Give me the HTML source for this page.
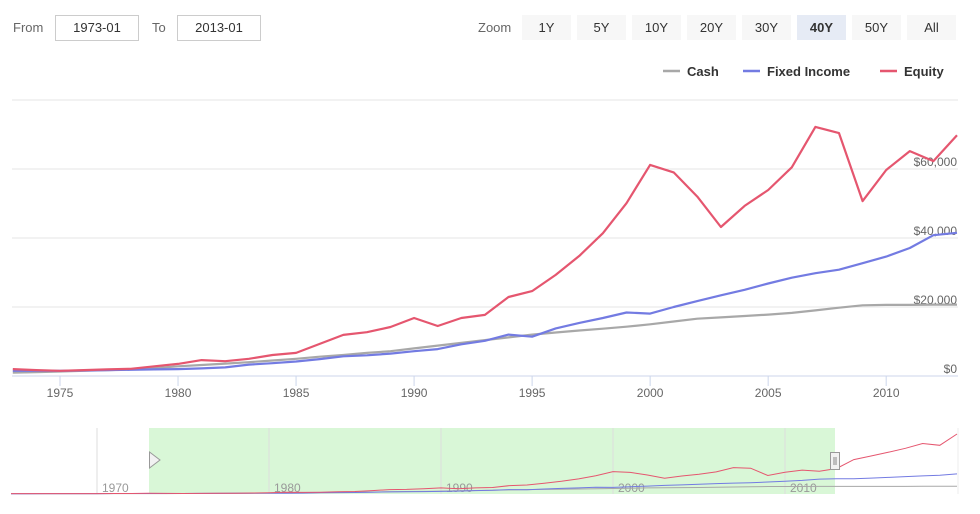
<!DOCTYPE html>
<html><head><meta charset="utf-8"><style>
body{margin:0;background:#fff;font-family:"Liberation Sans",sans-serif;}
svg text{font-family:"Liberation Sans",sans-serif;}
</style></head><body>
<svg id="c" width="980" height="509" viewBox="0 0 980 509">
<text x="13" y="32" font-size="13" fill="#666">From</text>
<rect x="55.5" y="15.5" width="83" height="25" fill="#fff" stroke="#ccc"/>
<text x="97" y="32" font-size="13" fill="#333" text-anchor="middle">1973-01</text>
<text x="152" y="32" font-size="13" fill="#666">To</text>
<rect x="177.5" y="15.5" width="83" height="25" fill="#fff" stroke="#ccc"/>
<text x="219" y="32" font-size="13" fill="#333" text-anchor="middle">2013-01</text>
<text x="478" y="32" font-size="13" fill="#666">Zoom</text>
<g id="btns"></g>
<g id="legend"></g>
<g id="grid"></g>
<g id="main"></g>
<g id="nav"></g>
</svg>
<script>
const years=[1973,1974,1975,1976,1977,1978,1979,1980,1981,1982,1983,1984,1985,1986,1987,1988,1989,1990,1991,1992,1993,1994,1995,1996,1997,1998,1999,2000,2001,2002,2003,2004,2005,2006,2007,2008,2009,2010,2011,2012,2013];
const equity=[2000,1700,1500,1700,1900,2100,2800,3500,4600,4300,5000,6100,6700,9300,11900,12700,14200,16800,14500,16800,17700,22900,24600,29300,34800,41400,50100,61200,59000,52000,43200,49300,53900,60500,72200,70400,50700,59700,65200,62300,69800];
const fixedIncome=[1500,1500,1500,1600,1700,1800,1900,2000,2200,2500,3300,3700,4200,4900,5700,6000,6500,7200,7800,9200,10200,12000,11400,13800,15400,16800,18400,18100,20000,21700,23400,25000,26800,28500,29800,30800,32700,34600,37100,40800,41500];
const cash=[1000,1100,1300,1500,1700,1900,2300,2800,3200,3600,4000,4500,5000,5600,6100,6700,7200,8000,8800,9600,10400,11200,12000,12600,13200,13700,14300,15000,15800,16600,17000,17400,17800,18300,19000,19800,20500,20600,20600,20700,20700];
const preYears=[1965,1966,1967,1968,1969,1970,1971,1972];
const preEquity=[1000,1000,1000,1100,1100,1200,1300,1500];
const preFixed=[900,900,1000,1000,1100,1200,1300,1400];
const preCash=[800,800,800,900,900,900,1000,1000];
const postYears=[2014,2015,2016,2017,2018,2019,2020];
const postEquity=[94000,104000,114000,125000,138000,133000,164000];
const postFixed=[41500,43500,45500,47500,49500,51500,55000];
const postCash=[20800,20800,20900,20900,21000,21000,21000];
const yTicks=[0,20000,40000,60000,80000];
const yTickLabels=["$0","$20,000","$40,000","$60,000",""];
const xTicks=[1975,1980,1985,1990,1995,2000,2005,2010];
const navTicks=[1970,1980,1990,2000,2010];
const zoomButtons=["1Y","5Y","10Y","20Y","30Y","40Y","50Y","All"];
const NS="http://www.w3.org/2000/svg";
function mk(tag,attrs,parent){const e=document.createElementNS(NS,tag);for(const k in attrs)e.setAttribute(k,attrs[k]);parent.appendChild(e);return e;}
const xS=y=>12.8+(y-1973)*(957-12.8)/40;
const yS=v=>376-v*69/20000;
const nxS=y=>97+(y-1970)*17.2;
const nyS=v=>494-v*(60/164000);
const COL={equity:"#e5566f",fixed:"#737be2",cash:"#a8a8a8"};
// buttons
const bg=document.getElementById('btns');
zoomButtons.forEach((b,i)=>{const x=522+i*55;
 const r=mk('rect',{x:x,y:15,width:49,height:25,fill:b==="40Y"?"#e6ebf5":"#f7f7f7"},bg);
 
 
 const t=mk('text',{x:x+24.5,y:32,'font-size':13,'text-anchor':'middle',fill:"#333",'font-weight':b==="40Y"?"bold":"normal"},bg);t.textContent=b;
 
 
});
// legend
const lg=document.getElementById('legend');
[["Cash",COL.cash,663],["Fixed Income",COL.fixed,743],["Equity",COL.equity,880]].forEach(([n,c,x])=>{
 const g=mk('g',{},lg);
 
 
 mk('line',{x1:x,x2:x+17,y1:71,y2:71,stroke:c,'stroke-width':2.5},g);
 const t=mk('text',{x:x+24,y:76,'font-size':13,'font-weight':'bold',fill:"#333"},g);t.textContent=n;
});
// grid
const gg=document.getElementById('grid');
yTicks.forEach((v,i)=>{const y=yS(v);
 const l=mk('line',{x1:12,x2:958,y1:y,y2:y,stroke:i===0?"#ccd6eb":"#e6e6e6",'stroke-width':1},gg);
 
 
 if(yTickLabels[i]){const t=mk('text',{x:957,y:y-3,'font-size':12,'text-anchor':'end',fill:"#666"},gg);t.textContent=yTickLabels[i];
 
 }
});
xTicks.forEach(yr=>{const x=xS(yr);
 mk('line',{x1:x,x2:x,y1:376,y2:386,stroke:"#ccd6eb"},gg);
 const t=mk('text',{x:x,y:397,'font-size':12,'text-anchor':'middle',fill:"#666"},gg);t.textContent=yr;
 
 
});
// main series
const mg=document.getElementById('main');
function path(xs,vs,fx,fy){return xs.map((y,i)=>(i?'L':'M')+fx(y).toFixed(1)+' '+fy(vs[i]).toFixed(1)).join(' ');}
[["cash",cash],["fixed",fixedIncome],["equity",equity]].forEach(([k,arr])=>{
 const p=mk('path',{d:path(years,arr,xS,yS),fill:'none',stroke:COL[k],'stroke-width':2.2,'stroke-linejoin':'round'},mg);
 
 
});
// navigator
const ng=document.getElementById('nav');
const sel=mk('rect',{x:149,y:428,width:686,height:66,fill:"#d9f7d7"},ng);


navTicks.forEach(yr=>{const x=nxS(yr);
 mk('line',{x1:x,x2:x,y1:428,y2:494,stroke:"#ddd"},ng);
 const t=mk('text',{x:x+5,y:492,'font-size':12,fill:"#999"},ng);t.textContent=yr;
 
 
});
mk('line',{x1:958,x2:958,y1:428,y2:494,stroke:"#eee"},ng);
const allYears=preYears.concat(years,postYears);
[["cash",preCash.concat(cash,postCash)],["fixed",preFixed.concat(fixedIncome,postFixed)],["equity",preEquity.concat(equity,postEquity)]].forEach(([k,arr])=>{
 const p=mk('path',{d:path(allYears,arr,y=>Math.max(8,nxS(y)),nyS),fill:'none',stroke:COL[k],'stroke-width':1},ng);
 
 
});
const lh=mk('path',{d:"M149.5 452 L160 460 L149.5 468 Z",fill:"#f2f2f2",stroke:"#999"},ng);


const rh=mk('rect',{x:830.5,y:452.5,width:9,height:17,fill:"#f2f2f2",stroke:"#999"},ng);


mk('line',{x1:834,x2:834,y1:457,y2:465,stroke:"#888"},ng);
mk('line',{x1:836,x2:836,y1:457,y2:465,stroke:"#888"},ng);
</script>
</body></html>
